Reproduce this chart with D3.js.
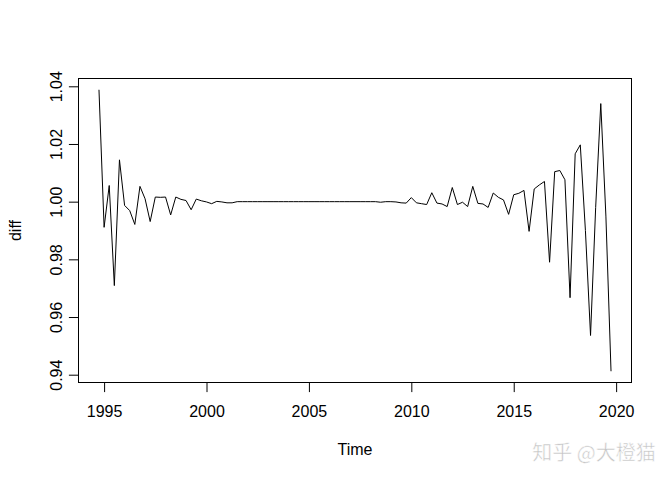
<!DOCTYPE html>
<html>
<head>
<meta charset="utf-8">
<script src="https://cdn.jsdelivr.net/npm/d3@7"></script>
<style>
body { margin: 0; background: #fff; }
svg { display: block; font-family: "Liberation Sans", Arial, sans-serif; }
</style>
</head>
<body>
<svg id="chart" width="672" height="480"></svg>
<script>
// quarterly series, starts 1994 Q4
const startYear = 1994.75;
const freq = 4;
const diffValues = [
  1.0388, 0.9911, 1.0056, 0.9709, 1.0145, 0.9987, 0.9969, 0.9921, 1.0053, 1.0010,
  0.9931, 1.0016, 1.0015, 1.0016, 0.9954, 1.0016, 1.0008, 1.0004, 0.9972, 1.0009,
  1.0003, 0.9999, 0.9993, 1.0001, 0.9999, 0.9996, 0.9996,
  1.0000, 1.0000, 1.0000, 1.0000, 1.0000, 1.0000, 1.0000, 1.0000, 1.0000, 1.0000,
  1.0000, 1.0000, 1.0000, 1.0000, 1.0000, 1.0000, 1.0000, 1.0000, 1.0000, 1.0000,
  1.0000, 1.0000, 1.0000, 1.0000, 1.0000, 1.0000, 1.0000, 1.0000,
  0.9998, 1.0000, 1.0000, 0.9999, 0.9996, 0.9995, 1.0014, 0.9996, 0.9993, 0.9990,
  1.0031, 0.9995, 0.9992, 0.9983, 1.0049, 0.9990, 0.9998, 0.9983, 1.0053, 0.9994,
  0.9992, 0.9980, 1.0030, 1.0015, 1.0006, 0.9956, 1.0024, 1.0029, 1.0039, 0.9897,
  1.0044, 1.0058, 1.0070, 0.9790, 1.0104, 1.0108, 1.0076, 0.9667, 1.0166, 1.0197,
  0.9900, 0.9536, 0.9980, 1.0340, 0.9950, 0.9412
];
const xTicks = [1995, 2000, 2005, 2010, 2015, 2020];
const yTicks = [0.94, 0.96, 0.98, 1.00, 1.02, 1.04];
const xLabel = 'Time';
const yLabel = 'diff';
const watermark = '知乎 @大橙猫';

const box = {left: 78.5, top: 78.5, right: 631.5, bottom: 382.5};
const svg = d3.select('#chart');

const times = diffValues.map((v, i) => startYear + i / freq);
// R style axis range: data range plus 4% each side
function pad(lo, hi) {
  let d = (hi - lo) * 0.04;
  return [lo - d, hi + d];
}
const x = d3.scaleLinear().domain(pad(d3.min(times), d3.max(times))).range([box.left, box.right]);
const y = d3.scaleLinear().domain(pad(d3.min(diffValues), d3.max(diffValues))).range([box.bottom, box.top]);

const line = d3.line()
  .x((d, i) => x(times[i]))
  .y(d => y(d));

svg.append('path')
  .datum(diffValues)
  .attr('d', line)
  .attr('fill', 'none')
  .attr('stroke', '#000')
  .attr('stroke-width', 1);

svg.append('rect')
  .attr('x', box.left)
  .attr('y', box.top)
  .attr('width', box.right - box.left)
  .attr('height', box.bottom - box.top)
  .attr('fill', 'none')
  .attr('stroke', '#000');

svg.append('g')
  .attr('transform', `translate(0,${box.bottom})`)
  .call(d3.axisBottom(x).tickValues(xTicks).tickFormat(d3.format('d')).tickSize(9.6).tickSizeOuter(0))
  .attr('font-size', 16)
  .attr('font-family', null)
  .call(g => g.select('.domain').remove())
  .call(g => g.selectAll('text').attr('y', 34.4).attr('dy', null));

svg.append('g')
  .attr('transform', `translate(${box.left},0)`)
  .call(d3.axisLeft(y).tickValues(yTicks).tickFormat(d3.format('.2f')).tickSize(9.6).tickSizeOuter(0))
  .attr('font-size', 16)
  .attr('font-family', null)
  .call(g => g.select('.domain').remove())
  .call(g => g.selectAll('text')
    .attr('x', null).attr('dy', null)
    .attr('text-anchor', 'middle')
    .attr('transform', 'translate(-17,0) rotate(-90)'));

svg.append('text')
  .attr('x', (box.left + box.right) / 2)
  .attr('y', 455)
  .attr('text-anchor', 'middle')
  .attr('font-size', 16)
  .text(xLabel);

svg.append('text')
  .attr('transform', `translate(21,${(box.top + box.bottom) / 2}) rotate(-90)`)
  .attr('text-anchor', 'middle')
  .attr('font-size', 16)
  .text(yLabel);

svg.append('text')
  .attr('x', 594)
  .attr('y', 460)
  .attr('text-anchor', 'middle')
  .attr('font-size', 20)
  .attr('font-family', '"Noto Sans CJK SC", sans-serif')
  .attr('fill', '#c4c4c4')
  .attr('stroke', '#fff')
  .attr('stroke-width', 0.5)
  .text(watermark);
</script>
</body>
</html>
